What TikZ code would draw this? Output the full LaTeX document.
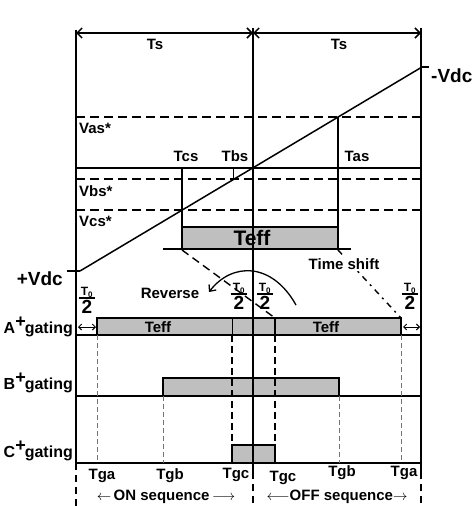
\documentclass[tikz,border=0pt]{standalone}
\usepackage{fontspec}
\setmainfont{Liberation Sans}
\usetikzlibrary{arrows.meta}

\tikzset{lbl/.style = {font=\fontsize{15}{17}\selectfont\bfseries, inner sep=0pt}}
\setlength{\arrayrulewidth}{1.6pt}
\newcommand{\halfts}{\begin{tabular}{@{\,}c@{\,}}{\fontsize{12}{12}\selectfont T\textsubscript{0}}\\[-2pt]\hline\noalign{\vskip 1pt}{\fontsize{19}{17}\selectfont 2}\end{tabular}}
\newcommand{\gatelbl}[1]{#1\raisebox{6pt}{\fontsize{18}{18}\selectfont +}\kern-1pt gating}

\begin{document}
\begin{tikzpicture}[x=1pt,y=-1pt]
            % Define styles
            \tikzstyle{frame} = [line width=2pt]
            \tikzstyle{level} = [line width=1.8pt, dash pattern=on 9pt off 5pt]
            \tikzstyle{bar} = [draw, line width=1.8pt, fill=black!25]
            \tikzstyle{guide} = [black!55, line width=0.8pt, dash pattern=on 5pt off 3pt]
            \tikzstyle{tgc} = [line width=1.8pt, dash pattern=on 7pt off 4pt]
            \tikzstyle{span} = [line width=1.5pt, {Straight Barb[length=5pt,width=10pt]}-{Straight Barb[length=5pt,width=10pt]}]
            \tikzstyle{small span} = [line width=1pt, {Straight Barb[length=3pt,width=6pt]}-{Straight Barb[length=3pt,width=6pt]}]
            \tikzstyle{half} = [font=\fontsize{12}{12}\selectfont\bfseries, inner sep=0pt]
            \useasboundingbox (0,0) rectangle (474,506);

            % Frame lines (left, centre, right)
            \coordinate (lt) at (76,30);  \coordinate (lb) at (76,463);  \coordinate (le) at (76,506);
            \coordinate (ct) at (253,28); \coordinate (cb) at (253,472); \coordinate (ce) at (253,506);
            \coordinate (rt) at (421,28); \coordinate (rb) at (421,472); \coordinate (re) at (421,506);
            \draw[frame] (lt) -- (lb);
            \draw[frame] (ct) -- (cb);
            \draw[frame] (rt) -- (rb);
            \draw[frame, dash pattern=on 7pt off 5pt] (lb) -- (le);
            \draw[frame, dash pattern=on 7pt off 5pt] (cb) -- (ce);
            \draw[frame, dash pattern=on 7pt off 5pt] (rb) -- (re);

            % Sampling periods
            \coordinate (tsl) at (76,33); \coordinate (tsc) at (253,33); \coordinate (tsr) at (421,33);
            \draw[span] (tsl) -- (tsc);
            \draw[span] (tsc) -- (tsr);
            \node[lbl] (ts1) at (155,44) {Ts};
            \node[lbl] (ts2) at (339,44) {Ts};

            % Reference levels
            \coordinate (va1) at (76,117); \coordinate (va2) at (421,117);
            \coordinate (vo1) at (76,168); \coordinate (vo2) at (421,168);
            \coordinate (vb1) at (76,179); \coordinate (vb2) at (421,179);
            \coordinate (vc1) at (76,210); \coordinate (vc2) at (421,210);
            \draw[level] (va1) -- (va2);
            \draw[line width=1.2pt] (vo1) -- (vo2);
            \draw[level] (vb1) -- (vb2);
            \draw[level] (vc1) -- (vc2);
            \node[lbl, anchor=west] (vas) at (79,128) {Vas*};
            \node[lbl, anchor=west] (vbs) at (79,191) {Vbs*};
            \node[lbl, anchor=west] (vcs) at (79,221) {Vcs*};

            % Carrier ramp
            \coordinate (rampa) at (80,271); \coordinate (rampb) at (422,67);
            \draw[line width=1.5pt] (rampa) -- (rampb);
            \draw[line width=1.5pt] (67,271) -- (rampa);
            \draw[line width=1.5pt] (rampb) -- (429,67);
            \node[lbl, font=\fontsize{19}{21}\selectfont\bfseries, anchor=east] (vdcp) at (63,279) {+Vdc};
            \node[lbl, font=\fontsize{19}{21}\selectfont\bfseries, anchor=west] (vdcm) at (431,76) {-Vdc};

            % Crossing instants
            \node[lbl] (tcs) at (186,156) {Tcs};
            \node[lbl] (tbs) at (235,156) {Tbs};
            \node[lbl] (tas) at (357,156) {Tas};
            \draw[line width=1.3pt] (182,168) -- (182,227);
            \draw[line width=0.8pt] (233,168) -- (233,179);
            \draw[line width=1.5pt] (338,117) -- (338,227);

            % Effective time
            \draw[bar] (182,227) rectangle (338,249);
            \draw[line width=2pt] (253,227) -- (253,249);
            \node[lbl, font=\fontsize{21}{23}\selectfont\bfseries] (teff) at (252,238) {Teff};
            \coordinate (tl1) at (163,249); \coordinate (tl2) at (351,249);
            \draw[line width=1.8pt] (tl1) -- (tl2);

            % Shift onto the gating row
            \coordinate (sha) at (182,250); \coordinate (shb) at (275,318);
            \coordinate (sta) at (338,250); \coordinate (stb) at (401,318);
            \draw[line width=1.4pt, dash pattern=on 8pt off 5pt] (sha) -- (shb);
            \draw[line width=1.4pt, dash pattern=on 6pt off 5pt on 2pt off 5pt] (sta) -- (stb);
            \node[lbl, fill=white, inner sep=1.5pt] (tshift) at (344,264) {Time shift};

            % Reverse
            \coordinate (revs) at (296,305); \coordinate (reve) at (209,292);
            \draw[line width=1.3pt, -{Straight Barb[length=5pt,width=9pt]}] (revs) .. controls (272,262) and (232,262) .. (reve);
            \node[lbl] (rev) at (170,293) {Reverse};

            % Half zero-vector times
            \node[half] (h1) at (87,302) {\halfts};
            \node[half] (h2) at (239,298) {\halfts};
            \node[half] (h3) at (265,298) {\halfts};
            \node[half] (h4) at (410,298) {\halfts};

            % A+ gating
            \draw[bar] (97,318) rectangle (401,335);
            \draw[line width=0.8pt] (232,318) -- (232,335);
            \draw[line width=1.8pt] (275,318) -- (275,335);
            \draw[frame] (253,318) -- (253,335);
            \draw[frame] (76,335) -- (421,335);
            \node[lbl] (teffa) at (158,327) {Teff};
            \node[lbl] (teffb) at (326,327) {Teff};
            \draw[small span] (78,327) -- (96,327);
            \draw[small span] (403,327) -- (420,327);
            \node[lbl, font=\fontsize{16}{18}\selectfont\bfseries, anchor=east] (ga) at (73,327) {\gatelbl{A}};

            % B+ gating
            \draw[bar] (163,396) -- (163,378) -- (339,378) -- (339,396);
            \draw[frame] (253,378) -- (253,396);
            \draw[frame] (76,396) -- (421,396);
            \node[lbl, font=\fontsize{16}{18}\selectfont\bfseries, anchor=east] (gb) at (73,383) {\gatelbl{B}};

            % C+ gating
            \draw[bar] (232,463) -- (232,445) -- (275,445) -- (275,463);
            \draw[frame] (253,445) -- (253,463);
            \draw[frame] (76,463) -- (421,463);
            \node[lbl, font=\fontsize{16}{18}\selectfont\bfseries, anchor=east] (gc) at (73,451) {\gatelbl{C}};

            % Switching instants
            \draw[guide] (97,335) -- (97,463);
            \draw[guide] (163,396) -- (163,463);
            \draw[guide] (339,396) -- (339,463);
            \draw[guide] (401,335) -- (401,463);
            \draw[tgc] (232,335) -- (232,445);
            \draw[tgc] (275,335) -- (275,445);
            \node[lbl] (tga1) at (102,476) {Tga};
            \node[lbl] (tgb1) at (170,476) {Tgb};
            \node[lbl] (tgc1) at (236,475) {Tgc};
            \node[lbl] (tgc2) at (283,478) {Tgc};
            \node[lbl] (tgb2) at (342,473) {Tgb};
            \node[lbl] (tga2) at (404,473) {Tga};

            % Sequences
            \node[lbl] (onseq) at (166,497) {$\leftarrow$\,ON sequence\,$\longrightarrow$};
            \node[lbl] (offseq) at (337,497) {$\longleftarrow$OFF sequence$\rightarrow$};
\end{tikzpicture}
\end{document}
